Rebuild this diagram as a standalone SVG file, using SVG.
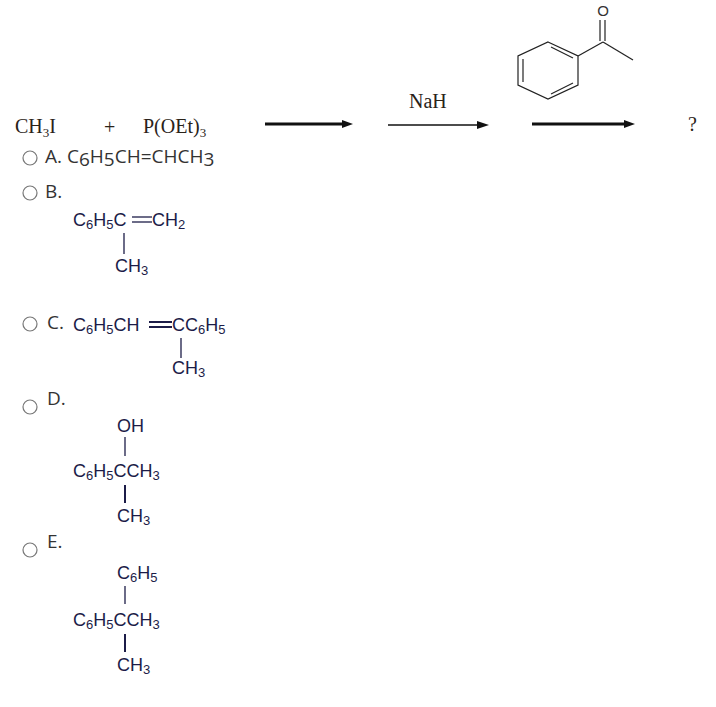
<svg xmlns="http://www.w3.org/2000/svg" width="716" height="707" viewBox="0 0 716 707">
<style>
.s{font-family:"Liberation Serif",serif;font-size:20px;fill:#2a2218}
.o{font-family:"Open Sans","Noto Sans",sans-serif;font-size:19px;fill:#333}
.f{font-family:"Liberation Sans",Arial,sans-serif;font-size:18px;fill:#1c1c48}
.b{stroke:#222;fill:none}
.r{fill:#fff;stroke:#777;stroke-width:1.2}
</style>
<rect width="716" height="707" fill="#fff"/>
<g id="reactants">
<text class="s" x="15" y="133">CH<tspan font-size="13" dy="4">3</tspan><tspan dy="-4">I</tspan></text>
<text class="s" x="104" y="134" font-size="17">+</text>
<text class="s" x="143" y="133">P(OEt)<tspan font-size="13" dy="4">3</tspan></text>
<text class="s" x="688" y="131">?</text>
<text class="s" x="409" y="108" font-size="19">NaH</text>
</g>
<g id="connectors">
<line x1="265" y1="124" x2="345" y2="124" stroke="#111" stroke-width="3"/>
<path d="M342,120 L353,124 L342,128 z" fill="#111"/>
<line x1="388" y1="125" x2="480" y2="125" stroke="#111" stroke-width="1.5"/>
<path d="M477,121 L489,125 L477,129 z" fill="#111"/>
<line x1="532" y1="124" x2="627" y2="124" stroke="#111" stroke-width="3"/>
<path d="M624,120 L635,124 L624,128 z" fill="#111"/>
</g>
<g id="ketone" class="b" stroke-width="1.2">
<polygon points="548,42 578,56 578,85 548,99 518,85 518,56"/>
<line x1="523" y1="59" x2="523" y2="82"/>
<line x1="551" y1="47" x2="573" y2="58"/>
<line x1="551" y1="94" x2="573" y2="83"/>
<line x1="578" y1="56" x2="603" y2="42"/>
<line x1="603" y1="42" x2="633" y2="60"/>
<line x1="600" y1="41" x2="600" y2="20"/>
<line x1="605" y1="41" x2="605" y2="20"/>
<text x="603" y="16" text-anchor="middle" font-family="Liberation Sans,sans-serif" font-size="15" fill="#333" stroke="none">O</text>
</g>
<g id="optA">
<circle class="r" cx="30" cy="158" r="7"/>
<text class="o" x="45" y="163">A. C<tspan dy="3">6</tspan><tspan dy="-3">H</tspan><tspan dy="3">5</tspan><tspan dy="-3">CH=CHCH</tspan><tspan dy="3">3</tspan></text>
</g>
<g id="optB">
<circle class="r" cx="30" cy="193" r="7"/>
<text class="o" x="45" y="198" font-size="17">B.</text>
<text class="f" x="73" y="226">C<tspan font-size="13" dy="3">6</tspan><tspan dy="-3">H</tspan><tspan font-size="13" dy="3">5</tspan><tspan dy="-3">C</tspan></text>
<line x1="132" y1="217" x2="152" y2="217" stroke="#1c1c48" stroke-width="1.3"/>
<line x1="132" y1="222" x2="152" y2="222" stroke="#1c1c48" stroke-width="1.3"/>
<text class="f" x="152" y="226">CH<tspan font-size="13" dy="3">2</tspan></text>
<line x1="124" y1="233" x2="124" y2="254" stroke="#1c1c48" stroke-width="1.3"/>
<text class="f" x="115" y="272">CH<tspan font-size="13" dy="3">3</tspan></text>
</g>
<g id="optC">
<circle class="r" cx="30" cy="324" r="7"/>
<text class="o" x="47" y="329" font-size="17">C.</text>
<text class="f" x="73" y="331">C<tspan font-size="13" dy="3">6</tspan><tspan dy="-3">H</tspan><tspan font-size="13" dy="3">5</tspan><tspan dy="-3">CH</tspan></text>
<line x1="149" y1="322" x2="172" y2="322" stroke="#1c1c48" stroke-width="2"/>
<line x1="149" y1="327" x2="172" y2="327" stroke="#1c1c48" stroke-width="2"/>
<text class="f" x="172" y="331">CC<tspan font-size="13" dy="3">6</tspan><tspan dy="-3">H</tspan><tspan font-size="13" dy="3">5</tspan></text>
<line x1="181" y1="338" x2="181" y2="358" stroke="#1c1c48" stroke-width="1.3"/>
<text class="f" x="172" y="374">CH<tspan font-size="13" dy="3">3</tspan></text>
</g>
<g id="optD">
<circle class="r" cx="30" cy="407" r="7"/>
<text class="o" x="47" y="405" font-size="17">D.</text>
<text class="f" x="117" y="432">OH</text>
<line x1="125" y1="437" x2="125" y2="456" stroke="#1c1c48" stroke-width="1.3"/>
<text class="f" x="73" y="477">C<tspan font-size="13" dy="3">6</tspan><tspan dy="-3">H</tspan><tspan font-size="13" dy="3">5</tspan><tspan dy="-3">CCH</tspan><tspan font-size="13" dy="3">3</tspan></text>
<line x1="125" y1="485" x2="125" y2="503" stroke="#1c1c48" stroke-width="2"/>
<text class="f" x="117" y="522">CH<tspan font-size="13" dy="3">3</tspan></text>
</g>
<g id="optE">
<circle class="r" cx="30" cy="550" r="7"/>
<text class="o" x="47" y="548" font-size="17">E.</text>
<text class="f" x="117" y="579">C<tspan font-size="13" dy="3">6</tspan><tspan dy="-3">H</tspan><tspan font-size="13" dy="3">5</tspan></text>
<line x1="125" y1="586" x2="125" y2="604" stroke="#1c1c48" stroke-width="1.3"/>
<text class="f" x="73" y="626">C<tspan font-size="13" dy="3">6</tspan><tspan dy="-3">H</tspan><tspan font-size="13" dy="3">5</tspan><tspan dy="-3">CCH</tspan><tspan font-size="13" dy="3">3</tspan></text>
<line x1="125" y1="634" x2="125" y2="652" stroke="#1c1c48" stroke-width="2"/>
<text class="f" x="117" y="671">CH<tspan font-size="13" dy="3">3</tspan></text>
</g>
</svg>
